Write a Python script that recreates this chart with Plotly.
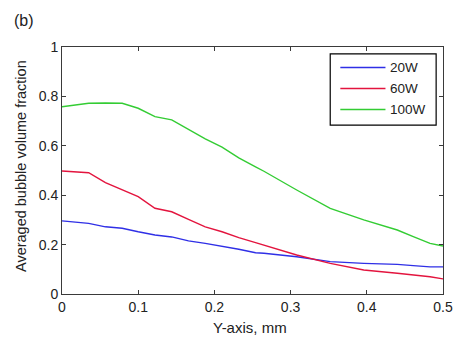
import plotly.graph_objects as go

# Distance along the Y-axis (mm)
y_axis_mm = [0.0, 0.035, 0.057, 0.079, 0.100, 0.122, 0.144, 0.166, 0.188, 0.210,
             0.232, 0.254, 0.265, 0.308, 0.352, 0.396, 0.440, 0.461, 0.483, 0.500]

# Averaged bubble volume fraction for each heating power
frac_20w = [0.296, 0.286, 0.272, 0.266, 0.252, 0.239, 0.231, 0.215, 0.205, 0.194,
            0.181, 0.167, 0.165, 0.151, 0.131, 0.124, 0.120, 0.115, 0.110, 0.110]
frac_60w = [0.498, 0.491, 0.451, 0.421, 0.394, 0.347, 0.333, 0.302, 0.272, 0.252,
            0.228, 0.208, 0.198, 0.158, 0.124, 0.097, 0.084, 0.078, 0.070, 0.061]
frac_100w = [0.758, 0.772, 0.773, 0.772, 0.752, 0.718, 0.705, 0.668, 0.628, 0.595,
             0.551, 0.515, 0.497, 0.421, 0.347, 0.300, 0.259, 0.232, 0.205, 0.194]

series_names = ["20W", "60W", "100W"]
series_values = [frac_20w, frac_60w, frac_100w]
series_colors = ["#2f2fe6", "#e3143e", "#33cc33"]

FONT = "Liberation Sans, Arial, sans-serif"
TEXT = "#222222"

fig = go.Figure()
for name, vals, color in zip(series_names, series_values, series_colors):
    fig.add_trace(go.Scatter(x=y_axis_mm, y=vals, mode="lines", name=name,
                             line=dict(color=color, width=1.4), showlegend=False))

axis_common = dict(showgrid=False, zeroline=False, showline=True, linecolor="#3a3a3a",
                   linewidth=1, mirror="allticks", ticks="inside", ticklen=4,
                   tickcolor="#3a3a3a", tickfont=dict(family=FONT, size=14, color=TEXT))

fig.update_layout(
    width=474, height=339,
    margin=dict(l=62, r=31, t=47, b=45),
    paper_bgcolor="white", plot_bgcolor="white",
    font=dict(family=FONT, color=TEXT),
    xaxis=dict(range=[0, 0.5], tickvals=[0, 0.1, 0.2, 0.3, 0.4, 0.5],
               ticktext=["0", "0.1", "0.2", "0.3", "0.4", "0.5"], **axis_common),
    yaxis=dict(range=[0, 1], tickvals=[0, 0.2, 0.4, 0.6, 0.8, 1],
               ticktext=["0", "0.2", "0.4", "0.6", "0.8", "1"], **axis_common),
    showlegend=False,
)

# Axis titles
fig.add_annotation(text="Y-axis, mm", xref="paper", yref="paper", x=0.494, y=-0.134,
                   xanchor="center", yanchor="middle", showarrow=False,
                   font=dict(family=FONT, size=15, color=TEXT))
fig.add_annotation(text="Averaged bubble volume fraction", xref="paper", yref="paper",
                   x=-0.109, y=0.52, xanchor="center", yanchor="middle", textangle=-90,
                   showarrow=False, font=dict(family=FONT, size=14.5, color=TEXT))

# Panel label
fig.add_annotation(text="(b)", xref="paper", yref="paper", x=-0.131, y=1.107,
                   xanchor="left", yanchor="middle", showarrow=False,
                   font=dict(family=FONT, size=16, color=TEXT))

# Boxed legend in the upper right corner
fig.add_shape(type="rect", xref="paper", yref="paper", x0=0.704, x1=0.982,
              y0=0.684, y1=0.972, line=dict(color="black", width=1.2),
              fillcolor="white", layer="above")
legend_rows = [0.917, 0.832, 0.747]
for name, color, ry in zip(series_names, series_colors, legend_rows):
    fig.add_shape(type="line", xref="paper", yref="paper", x0=0.7305, x1=0.849,
                  y0=ry, y1=ry, line=dict(color=color, width=1.4), layer="above")
    fig.add_annotation(text=name, xref="paper", yref="paper", x=0.855, y=ry,
                       xanchor="left", yanchor="middle", showarrow=False,
                       font=dict(family=FONT, size=13.5, color=TEXT))

fig.write_html("out.html")
